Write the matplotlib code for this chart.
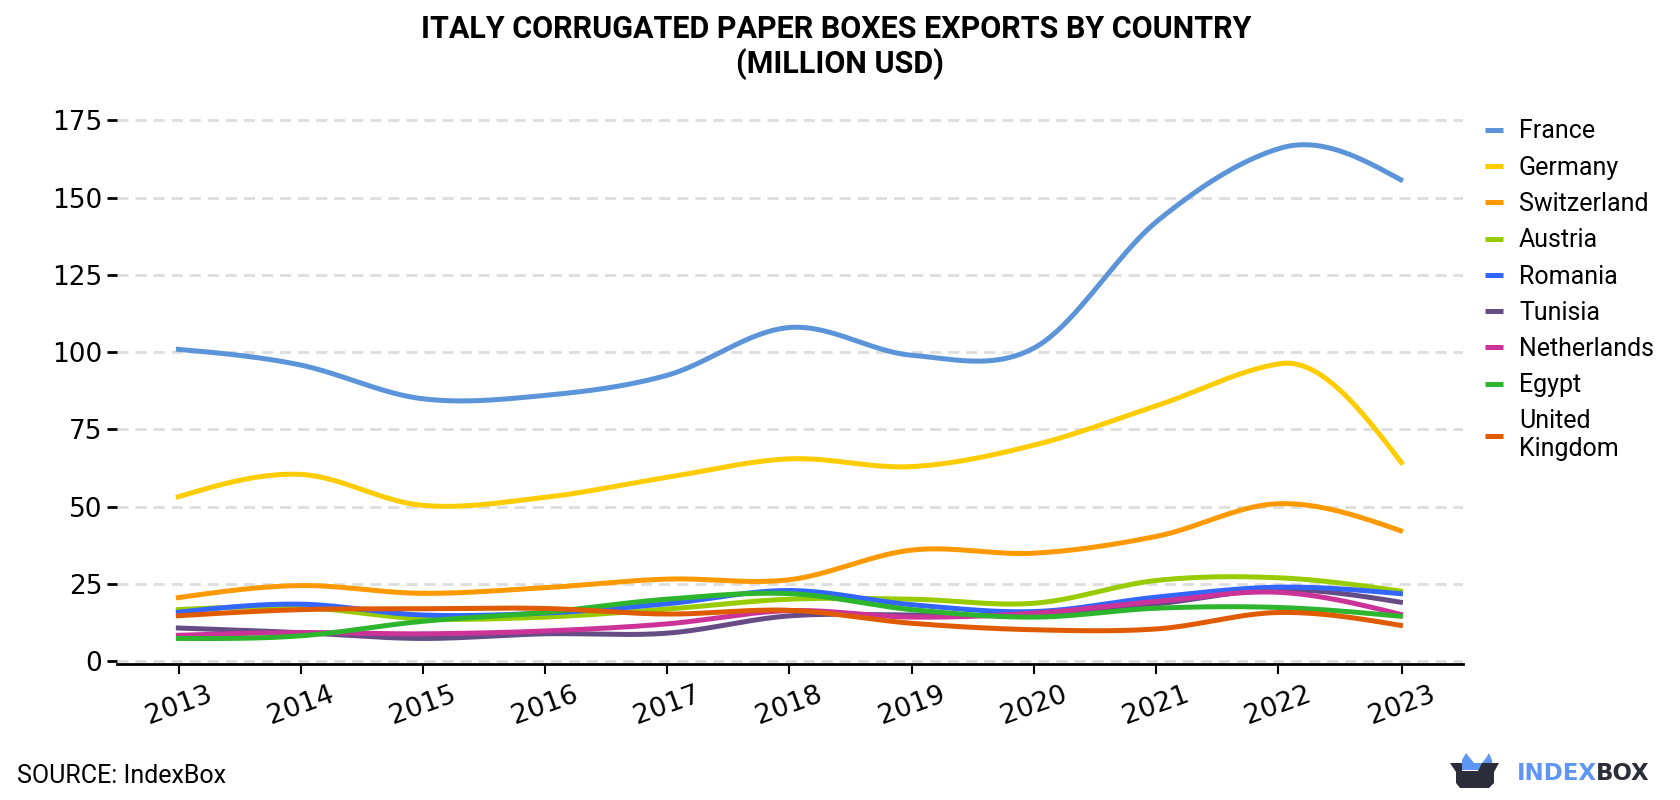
import numpy as np
import matplotlib
matplotlib.use("Agg")
import matplotlib.pyplot as plt
from matplotlib.patches import Polygon

years = [2013, 2014, 2015, 2016, 2017, 2018, 2019, 2020, 2021, 2022, 2023]

france = [101, 96, 85, 86, 92.5, 108, 99, 101.5, 142.5, 166, 155.4]
germany = [53, 60.5, 50.5, 53, 59.5, 65.5, 63, 70, 82.8, 96.3, 63.7]
switzerland = [20.5, 24.5, 22, 23.8, 26.6, 26.4, 36, 35, 40.5, 51, 42]
austria = [16.7, 17.5, 13.8, 14.3, 16.9, 20.1, 20.1, 18.8, 26.2, 27, 22.6]
romania = [15.8, 18.5, 15, 15.6, 18.6, 22.9, 18.3, 16.1, 20.8, 24, 21.8]
tunisia = [10.8, 9.3, 7.4, 8.9, 9.1, 14.7, 15, 15, 18.6, 23.2, 19]
netherlands = [8.4, 9.3, 8.9, 9.8, 12.1, 16.4, 14.3, 15.6, 19.4, 22.3, 15]
egypt = [7.4, 8.2, 12.9, 15.8, 20.1, 21.9, 16.7, 14.3, 17.2, 17.4, 14.5]
uk = [14.7, 16.7, 17, 17.1, 15.3, 16.5, 12.3, 10.2, 10.5, 15.8, 11.5]

names = ["France", "Germany", "Switzerland", "Austria", "Romania", "Tunisia",
         "Netherlands", "Egypt", "United\nKingdom"]
series = [france, germany, switzerland, austria, romania, tunisia, netherlands, egypt, uk]
colors = ["#5b94d8", "#ffcc00", "#ff9900", "#99cc00", "#3366ff", "#664c85",
          "#cc3399", "#2db52d", "#e05a00"]
layers = [2, 2.1, 2.2, 2.3, 2.5, 2.4, 2.6, 2.7, 2.8]
yticks = [0, 25, 50, 75, 100, 125, 150, 175]
# slope at the 2022 point for the two lines that peak just after it
slopes_2022 = {"France": 12, "Germany": 6}


# Catmull-Rom style hermite curve through the yearly values
def smooth(x, y, fixed=None, n=40):
    x = np.asarray(x, dtype=float)
    y = np.asarray(y, dtype=float)
    d = np.diff(y) / np.diff(x)
    m = np.zeros(len(x))
    m[1:-1] = (y[2:] - y[:-2]) / (x[2:] - x[:-2])
    if fixed is not None:
        m[9] = fixed
    m[0] = (3 * d[0] - m[1]) / 2
    m[-1] = (3 * d[-1] - m[-2]) / 2
    xs, ys = [], []
    for i in range(len(x) - 1):
        t = np.linspace(0, 1, n, endpoint=False)
        h = x[i + 1] - x[i]
        ys.append((2*t**3 - 3*t**2 + 1) * y[i] + (t**3 - 2*t**2 + t) * h * m[i]
                  + (-2*t**3 + 3*t**2) * y[i + 1] + (t**3 - t**2) * h * m[i + 1])
        xs.append(x[i] + t * h)
    return np.append(np.concatenate(xs), x[-1]), np.append(np.concatenate(ys), y[-1])


W, H = 1680, 800
fig = plt.figure(figsize=(W / 100, H / 100), dpi=100)
ax = fig.add_axes([117 / W, 1 - 664 / H, (1463 - 117) / W, (664 - 100) / H])

for name, vals, col, z in zip(names, series, colors, layers):
    xs, ys = smooth(years, vals, slopes_2022.get(name))
    ax.plot(xs, ys, color=col, lw=3.6, label=name, solid_capstyle="butt", zorder=z)

ax.set_xlim(2012.52, 2023.49)
ax.set_ylim(-0.87, 181.6)
ax.set_yticks(yticks)
# the year ticks sit a hair off the line knots
tick_pos = np.array(years, dtype=float)
tick_pos[:-1] += np.linspace(0.024, -0.019, len(years) - 1)
tick_pos[-1] -= 0.008
ax.set_xticks(tick_pos)
ax.set_xticklabels(years)
ax.grid(axis="y", color="#dddddd", lw=2, ls=(0, (4, 2.5)))
ax.set_axisbelow(True)
for s in ["top", "right", "left"]:
    ax.spines[s].set_visible(False)
ax.spines["bottom"].set_linewidth(2)
ax.tick_params(axis="y", length=7, width=2, labelsize=19, pad=3.5)
ax.tick_params(axis="x", length=7, width=1.5, labelsize=19.5, pad=6)
for lab in ax.get_xticklabels():
    lab.set_rotation(20)

leg = fig.legend(loc="upper left", bbox_to_anchor=(1485 / W, 1 - 119.5 / H), frameon=False,
                 prop={"family": "Roboto", "size": 18}, handlelength=0.72,
                 handletextpad=0.64, labelspacing=0.49, borderpad=0, borderaxespad=0)
for line in leg.get_lines():
    line.set_linewidth(3.6)

fig.text(836 / W, 1 - 29 / H, "ITALY CORRUGATED PAPER BOXES EXPORTS BY COUNTRY", family="Roboto",
         weight="bold", size=22, ha="center", va="center")
fig.text(840 / W, 1 - 64 / H, "(MILLION USD)", family="Roboto",
         weight="bold", size=22, ha="center", va="center")
fig.text(17 / W, 1 - 776 / H, "SOURCE: IndexBox", family="Roboto", size=18, ha="left", va="center")

# logo in a full-figure overlay measured in pixels
ov = fig.add_axes([0, 0, 1, 1])
ov.set_xlim(0, W)
ov.set_ylim(H, 0)
ov.axis("off")
ov.add_patch(Polygon([(1462, 770), (1462, 760), (1466, 753), (1470, 758), (1474, 763), (1482, 763),
                      (1486, 758), (1489, 753), (1492, 760), (1493, 770)], color="#5f96f5", lw=0))
ov.add_patch(Polygon([(1450, 763), (1462, 763), (1462, 771), (1478, 771), (1482, 763), (1499, 763),
                      (1494, 772), (1494, 783), (1489, 788), (1460, 788), (1456, 783), (1456, 772)],
                     color="#2b2d38", lw=0))
ov.text(1517, 774, "INDEX", family="DejaVu Sans", weight="bold", size=16.5, color="#5f96f5", ha="left", va="center")
ov.text(1596, 774, "BOX", family="DejaVu Sans", weight="bold", size=16.5, color="#2b2d38", ha="left", va="center")

fig.savefig("out.png", dpi=100)
